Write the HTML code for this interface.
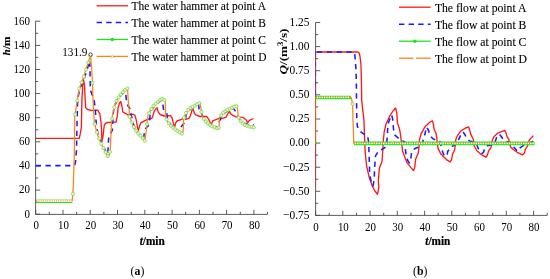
<!DOCTYPE html>
<html><head><meta charset="utf-8"><title>Figure</title>
<style>html,body{margin:0;padding:0;background:#fff}svg{display:block}</style></head>
<body>
<svg width="550" height="279" viewBox="0 0 550 279" font-family="'Liberation Serif', serif" fill="#000">
<rect width="550" height="279" fill="#fff"/>
<path d="M35.6,21.2V214.4H267.4" fill="none" stroke="#4a4a4a" stroke-width="0.9"/><path d="M35.7,214.4v-4.6M63.0,214.4v-4.6M90.2,214.4v-4.6M117.5,214.4v-4.6M144.8,214.4v-4.6M172.1,214.4v-4.6M199.4,214.4v-4.6M226.6,214.4v-4.6M253.9,214.4v-4.6M49.3,214.4v-2.6M76.6,214.4v-2.6M103.9,214.4v-2.6M131.2,214.4v-2.6M158.4,214.4v-2.6M185.7,214.4v-2.6M213.0,214.4v-2.6M240.3,214.4v-2.6M267.5,214.4v-2.6M35.6,214.2h4.6M35.6,190.1h4.6M35.6,166.0h4.6M35.6,141.8h4.6M35.6,117.7h4.6M35.6,93.6h4.6M35.6,69.5h4.6M35.6,45.4h4.6M35.6,21.2h4.6M35.6,202.1h2.6M35.6,178.0h2.6M35.6,153.9h2.6M35.6,129.8h2.6M35.6,105.7h2.6M35.6,81.5h2.6M35.6,57.4h2.6M35.6,33.3h2.6" fill="none" stroke="#4a4a4a" stroke-width="0.9"/>
<text transform="translate(36.20,229.40) scale(0.96,1.17)" font-size="11.4" text-anchor="middle">0</text>
<text transform="translate(63.48,229.40) scale(0.96,1.17)" font-size="11.4" text-anchor="middle">10</text>
<text transform="translate(90.75,229.40) scale(0.96,1.17)" font-size="11.4" text-anchor="middle">20</text>
<text transform="translate(118.03,229.40) scale(0.96,1.17)" font-size="11.4" text-anchor="middle">30</text>
<text transform="translate(145.30,229.40) scale(0.96,1.17)" font-size="11.4" text-anchor="middle">40</text>
<text transform="translate(172.57,229.40) scale(0.96,1.17)" font-size="11.4" text-anchor="middle">50</text>
<text transform="translate(199.85,229.40) scale(0.96,1.17)" font-size="11.4" text-anchor="middle">60</text>
<text transform="translate(227.12,229.40) scale(0.96,1.17)" font-size="11.4" text-anchor="middle">70</text>
<text transform="translate(254.40,229.40) scale(0.96,1.17)" font-size="11.4" text-anchor="middle">80</text>
<text transform="translate(30.00,217.50) scale(0.96,1.17)" font-size="11.4" text-anchor="end">0</text>
<text transform="translate(30.00,193.38) scale(0.96,1.17)" font-size="11.4" text-anchor="end">20</text>
<text transform="translate(30.00,169.26) scale(0.96,1.17)" font-size="11.4" text-anchor="end">40</text>
<text transform="translate(30.00,145.14) scale(0.96,1.17)" font-size="11.4" text-anchor="end">60</text>
<text transform="translate(30.00,121.02) scale(0.96,1.17)" font-size="11.4" text-anchor="end">80</text>
<text transform="translate(30.00,96.90) scale(0.96,1.17)" font-size="11.4" text-anchor="end">100</text>
<text transform="translate(30.00,72.78) scale(0.96,1.17)" font-size="11.4" text-anchor="end">120</text>
<text transform="translate(30.00,48.66) scale(0.96,1.17)" font-size="11.4" text-anchor="end">140</text>
<text transform="translate(30.00,24.54) scale(0.96,1.17)" font-size="11.4" text-anchor="end">160</text>
<text transform="translate(152.20,244.60) scale(1,1.12)" font-size="11.3" text-anchor="middle" font-weight="bold" stroke="#000" stroke-width="0.2"><tspan font-style="italic">t</tspan>/min</text>
<text transform="translate(9.90,46.00) rotate(-90) scale(1,0.92)" font-size="11.3" text-anchor="middle" font-weight="bold" stroke="#000" stroke-width="0.15"><tspan font-style="italic">h</tspan>/m</text>
<text transform="translate(137.50,274.80) scale(1,1.1)" font-size="11.8" text-anchor="middle">(<tspan font-weight="bold">a</tspan>)</text>
<path d="M315.6,22.5V215.4H547.3" fill="none" stroke="#4a4a4a" stroke-width="0.9"/><path d="M315.6,215.4v-4.6M342.8,215.4v-4.6M370.1,215.4v-4.6M397.3,215.4v-4.6M424.6,215.4v-4.6M451.8,215.4v-4.6M479.1,215.4v-4.6M506.3,215.4v-4.6M533.6,215.4v-4.6M329.2,215.4v-2.6M356.5,215.4v-2.6M383.7,215.4v-2.6M411.0,215.4v-2.6M438.2,215.4v-2.6M465.4,215.4v-2.6M492.7,215.4v-2.6M519.9,215.4v-2.6M547.2,215.4v-2.6M315.6,215.4h4.6M315.6,191.3h4.6M315.6,167.2h4.6M315.6,143.1h4.6M315.6,119.0h4.6M315.6,94.8h4.6M315.6,70.7h4.6M315.6,46.6h4.6M315.6,22.5h4.6M315.6,203.3h2.6M315.6,179.2h2.6M315.6,155.1h2.6M315.6,131.0h2.6M315.6,106.9h2.6M315.6,82.8h2.6M315.6,58.7h2.6M315.6,34.6h2.6" fill="none" stroke="#4a4a4a" stroke-width="0.9"/>
<text transform="translate(316.10,230.70) scale(0.96,1.17)" font-size="11.4" text-anchor="middle">0</text>
<text transform="translate(343.35,230.70) scale(0.96,1.17)" font-size="11.4" text-anchor="middle">10</text>
<text transform="translate(370.59,230.70) scale(0.96,1.17)" font-size="11.4" text-anchor="middle">20</text>
<text transform="translate(397.84,230.70) scale(0.96,1.17)" font-size="11.4" text-anchor="middle">30</text>
<text transform="translate(425.08,230.70) scale(0.96,1.17)" font-size="11.4" text-anchor="middle">40</text>
<text transform="translate(452.33,230.70) scale(0.96,1.17)" font-size="11.4" text-anchor="middle">50</text>
<text transform="translate(479.57,230.70) scale(0.96,1.17)" font-size="11.4" text-anchor="middle">60</text>
<text transform="translate(506.82,230.70) scale(0.96,1.17)" font-size="11.4" text-anchor="middle">70</text>
<text transform="translate(534.06,230.70) scale(0.96,1.17)" font-size="11.4" text-anchor="middle">80</text>
<text transform="translate(309.40,218.80) scale(1.0,1.17)" font-size="11.4" text-anchor="end">−0.75</text>
<text transform="translate(309.40,194.69) scale(1.0,1.17)" font-size="11.4" text-anchor="end">−0.50</text>
<text transform="translate(309.40,170.58) scale(1.0,1.17)" font-size="11.4" text-anchor="end">−0.25</text>
<text transform="translate(309.40,146.46) scale(1.0,1.17)" font-size="11.4" text-anchor="end">0.00</text>
<text transform="translate(309.40,122.35) scale(1.0,1.17)" font-size="11.4" text-anchor="end">0.25</text>
<text transform="translate(309.40,98.24) scale(1.0,1.17)" font-size="11.4" text-anchor="end">0.50</text>
<text transform="translate(309.40,74.12) scale(1.0,1.17)" font-size="11.4" text-anchor="end">0.75</text>
<text transform="translate(309.40,50.01) scale(1.0,1.17)" font-size="11.4" text-anchor="end">1.00</text>
<text transform="translate(309.40,25.90) scale(1.0,1.17)" font-size="11.4" text-anchor="end">1.25</text>
<text transform="translate(437.80,245.10) scale(1,1.12)" font-size="11.3" text-anchor="middle" font-weight="bold" stroke="#000" stroke-width="0.2"><tspan font-style="italic">t</tspan>/min</text>
<text transform="translate(287.20,51.50) rotate(-90) scale(1,0.86)" font-size="13.2" text-anchor="middle" font-weight="bold"><tspan font-style="italic">Q</tspan>/(m<tspan font-size="8.5" dy="-4.5">3</tspan><tspan dy="4.5">/s)</tspan></text>
<text transform="translate(420.30,274.60) scale(1,1.1)" font-size="11.8" text-anchor="middle">(<tspan font-weight="bold">b</tspan>)</text>
<polyline points="35.7,138.4 79.2,138.4 80.3,133.7 81.4,127.2 81.6,115.0 81.9,100.0 82.8,85.0 83.6,79.7 84.5,85.0 85.2,100.0 85.7,107.6 87.5,109.5 91.2,110.4 97.7,110.2 99.9,114.2 101.0,121.8 101.5,130.0 102.0,141.4 103.2,134.8 103.7,130.0 104.3,125.0 106.0,123.0 108.6,122.4 116.1,122.0 117.2,116.4 118.2,107.4 119.4,103.3 120.7,101.5 121.9,106.0 122.8,112.0 125.0,113.2 127.9,114.8 133.1,114.2 135.0,115.4 136.3,120.3 137.6,128.0 138.3,130.7 139.5,126.1 140.8,122.9 145.4,120.3 148.6,119.0 151.8,118.4 152.8,116.0 153.8,112.6 154.4,110.8 157.0,107.6 158.3,112.1 160.2,114.5 164.1,116.0 170.6,115.6 171.8,117.3 172.5,119.7 173.8,124.9 174.7,126.8 175.7,122.9 177.0,121.0 181.5,119.3 184.3,117.6 185.9,119.3 189.2,118.2 190.8,114.4 191.9,110.5 193.3,109.5 194.4,113.3 195.7,114.9 200.1,116.5 206.6,116.5 208.8,119.3 210.4,123.6 211.2,124.7 212.6,120.9 218.6,118.7 220.3,117.6 221.9,118.7 226.3,117.1 227.9,113.3 229.5,111.6 231.2,114.4 235.9,116.8 243.2,117.4 246.2,120.0 247.6,122.9 249.1,120.7 253.5,118.5" fill="none" stroke="#ff1a1a" stroke-width="1.35" stroke-linejoin="round"/>
<polyline points="35.7,165.6 74.5,165.6 75.5,162.0 76.5,150.0 77.0,125.0 77.5,105.0 78.3,96.0 80.0,88.0 82.4,83.5 84.8,77.0 86.7,71.0 88.6,64.5 89.5,60.5 89.9,64.0 90.1,78.0 90.4,90.0 94.0,100.0 95.3,108.0 95.8,118.0 96.6,127.0 98.0,133.5 99.2,137.5 100.4,140.4 101.6,143.1 102.8,145.6 103.9,147.9 105.1,150.2 106.3,152.4 107.5,154.5 108.0,151.0 108.6,139.0 110.5,134.0 112.4,130.0 113.0,118.0 113.6,110.5 115.4,104.2 118.1,99.3 121.3,95.0 124.5,91.8 125.6,92.5 126.0,96.6 126.6,101.8 127.9,105.7 130.8,109.5 131.1,114.7 132.4,119.0 133.1,123.6 134.4,126.1 135.9,130.2 139.2,134.5 142.5,137.8 143.6,138.6 144.0,135.2 144.7,131.3 146.0,128.0 148.0,126.1 149.6,122.3 150.0,116.5 150.8,110.9 154.0,106.6 157.2,103.4 159.9,101.3 161.5,100.3 162.2,101.8 163.0,105.0 163.4,108.9 166.7,112.4 167.3,118.0 168.6,121.2 170.0,123.5 171.4,125.1 172.8,126.5 174.2,127.7 175.6,128.9 177.0,130.1 178.4,131.2 179.8,132.2 180.2,130.7 180.9,127.4 182.5,125.0 184.4,123.0 185.6,120.0 185.9,115.4 187.7,111.6 190.9,109.0 194.1,107.3 197.4,105.2 198.6,105.0 199.2,111.0 201.7,113.3 203.2,118.0 204.9,120.9 209.2,124.6 213.0,126.8 216.5,128.3 217.0,125.8 218.6,123.0 220.5,119.0 221.3,116.5 223.5,113.6 227.0,111.3 230.6,109.5 233.5,108.2 234.4,109.7 236.6,113.4 238.0,117.0 241.2,121.0 244.8,123.6 249.5,125.0 253.8,124.6" fill="none" stroke="#1a1aff" stroke-width="1.55" stroke-dasharray="5.3 4.5" stroke-linejoin="round"/>
<path d="M35.7,202.4H72.4" fill="none" stroke="#1de61d" stroke-width="1.2"/>
<path d="M36.2,199.7H72.6" fill="none" stroke="#9dea72" stroke-width="1.0"/>
<path d="M35.7,200.9H72.2" fill="none" stroke="#ff8412" stroke-width="1.1" opacity="0.85"/>
<polyline points="72.2,200.9 72.9,193.6 73.5,180.0 74.3,155.0 74.6,130.0 74.8,116.1 77.0,102.0 79.0,89.7 81.4,82.9 83.8,76.3 85.7,70.3 87.9,63.2 90.6,55.0 91.6,68.0 92.5,83.0 93.0,100.0 94.4,122.9 96.6,131.5 98.1,136.3 99.5,139.9 101.0,143.1 102.4,146.1 103.9,149.0 105.4,151.8 106.8,154.4 108.3,157.0 109.5,154.0 110.3,150.0 111.3,125.0 112.4,116.4 113.8,109.4 115.4,103.0 118.1,98.1 121.3,93.8 124.5,90.6 127.5,88.2 128.2,100.0 129.2,110.0 129.5,116.6 131.3,121.2 133.2,125.9 135.9,130.5 139.2,134.5 142.5,137.8 144.9,140.8 146.5,129.2 147.4,120.0 148.0,115.5 150.8,109.7 154.0,105.4 157.2,102.2 159.9,100.1 162.6,98.7 165.3,100.8 165.5,110.0 166.0,118.0 167.3,121.0 169.2,124.0 171.0,125.9 172.9,127.5 174.8,128.9 176.6,130.3 178.5,131.5 180.3,132.7 182.2,133.9 183.2,131.0 183.6,120.5 183.9,118.0 185.5,114.2 187.7,110.4 190.9,107.8 194.1,106.1 197.4,104.0 200.0,102.6 200.6,106.7 201.7,113.1 202.7,117.4 204.9,120.7 209.2,124.4 211.5,125.9 213.9,127.0 216.2,128.1 218.6,129.0 219.2,126.6 219.4,117.8 221.1,115.4 223.5,112.4 227.0,110.1 230.6,108.3 234.1,106.9 237.1,105.9 237.7,110.0 238.3,117.2 241.2,121.9 244.8,124.9 249.5,126.6 254.8,127.6" fill="none" stroke="#ff8412" stroke-width="1.25" stroke-linejoin="round"/>
<path d="M38.00,199.1l0.95,2.6h-1.9z" fill="#fff"/>
<path d="M40.18,199.1l0.95,2.6h-1.9z" fill="#fff"/>
<path d="M42.36,199.1l0.95,2.6h-1.9z" fill="#fff"/>
<path d="M44.54,199.1l0.95,2.6h-1.9z" fill="#fff"/>
<path d="M46.72,199.1l0.95,2.6h-1.9z" fill="#fff"/>
<path d="M48.90,199.1l0.95,2.6h-1.9z" fill="#fff"/>
<path d="M51.08,199.1l0.95,2.6h-1.9z" fill="#fff"/>
<path d="M53.26,199.1l0.95,2.6h-1.9z" fill="#fff"/>
<path d="M55.44,199.1l0.95,2.6h-1.9z" fill="#fff"/>
<path d="M57.62,199.1l0.95,2.6h-1.9z" fill="#fff"/>
<path d="M59.80,199.1l0.95,2.6h-1.9z" fill="#fff"/>
<path d="M61.98,199.1l0.95,2.6h-1.9z" fill="#fff"/>
<path d="M64.16,199.1l0.95,2.6h-1.9z" fill="#fff"/>
<path d="M66.34,199.1l0.95,2.6h-1.9z" fill="#fff"/>
<path d="M68.52,199.1l0.95,2.6h-1.9z" fill="#fff"/>
<path d="M70.70,199.1l0.95,2.6h-1.9z" fill="#fff"/>
<circle cx="72.9" cy="193.8" r="1.6" fill="#fff" stroke="#58e038" stroke-width="0.72"/><path d="M72.9,192.6L73.9,194.6L71.9,194.6Z" fill="#fff" stroke="#ff8412" stroke-width="0.2"/>
<circle cx="75.1" cy="114.4" r="1.6" fill="#fff" stroke="#58e038" stroke-width="0.72"/><path d="M75.1,113.2L76.1,115.2L74.1,115.2Z" fill="#fff" stroke="#ff8412" stroke-width="0.2"/>
<circle cx="77.2" cy="100.5" r="1.6" fill="#fff" stroke="#58e038" stroke-width="0.72"/><path d="M77.2,99.3L78.2,101.3L76.2,101.3Z" fill="#fff" stroke="#ff8412" stroke-width="0.2"/>
<circle cx="79.4" cy="88.5" r="1.6" fill="#fff" stroke="#58e038" stroke-width="0.72"/><path d="M79.4,87.3L80.4,89.3L78.4,89.3Z" fill="#fff" stroke="#ff8412" stroke-width="0.2"/>
<circle cx="81.6" cy="82.3" r="1.6" fill="#fff" stroke="#58e038" stroke-width="0.72"/><path d="M81.6,81.1L82.6,83.1L80.6,83.1Z" fill="#fff" stroke="#ff8412" stroke-width="0.2"/>
<circle cx="83.8" cy="76.4" r="1.6" fill="#fff" stroke="#58e038" stroke-width="0.72"/><path d="M83.8,75.2L84.8,77.2L82.8,77.2Z" fill="#fff" stroke="#ff8412" stroke-width="0.2"/>
<circle cx="86.0" cy="69.5" r="1.6" fill="#fff" stroke="#58e038" stroke-width="0.72"/><path d="M86.0,68.3L87.0,70.3L85.0,70.3Z" fill="#fff" stroke="#ff8412" stroke-width="0.2"/>
<circle cx="88.1" cy="62.5" r="1.6" fill="#fff" stroke="#58e038" stroke-width="0.72"/><path d="M88.1,61.3L89.1,63.3L87.1,63.3Z" fill="#fff" stroke="#ff8412" stroke-width="0.2"/>
<circle cx="90.3" cy="55.9" r="1.6" fill="#fff" stroke="#58e038" stroke-width="0.72"/><path d="M90.3,54.7L91.3,56.7L89.3,56.7Z" fill="#fff" stroke="#ff8412" stroke-width="0.2"/>
<circle cx="92.5" cy="83.0" r="1.6" fill="#fff" stroke="#58e038" stroke-width="0.72"/><path d="M92.5,81.8L93.5,83.8L91.5,83.8Z" fill="#fff" stroke="#ff8412" stroke-width="0.2"/>
<circle cx="94.7" cy="124.0" r="1.6" fill="#fff" stroke="#58e038" stroke-width="0.72"/><path d="M94.7,122.8L95.7,124.8L93.7,124.8Z" fill="#fff" stroke="#ff8412" stroke-width="0.2"/>
<circle cx="96.9" cy="132.4" r="1.6" fill="#fff" stroke="#58e038" stroke-width="0.72"/><path d="M96.9,131.2L97.9,133.2L95.9,133.2Z" fill="#fff" stroke="#ff8412" stroke-width="0.2"/>
<circle cx="99.0" cy="138.7" r="1.6" fill="#fff" stroke="#58e038" stroke-width="0.72"/><path d="M99.0,137.5L100.0,139.5L98.0,139.5Z" fill="#fff" stroke="#ff8412" stroke-width="0.2"/>
<circle cx="101.2" cy="143.6" r="1.6" fill="#fff" stroke="#58e038" stroke-width="0.72"/><path d="M101.2,142.4L102.2,144.4L100.2,144.4Z" fill="#fff" stroke="#ff8412" stroke-width="0.2"/>
<circle cx="103.4" cy="148.0" r="1.6" fill="#fff" stroke="#58e038" stroke-width="0.72"/><path d="M103.4,146.8L104.4,148.8L102.4,148.8Z" fill="#fff" stroke="#ff8412" stroke-width="0.2"/>
<circle cx="105.6" cy="152.1" r="1.6" fill="#fff" stroke="#58e038" stroke-width="0.72"/><path d="M105.6,150.9L106.6,152.9L104.6,152.9Z" fill="#fff" stroke="#ff8412" stroke-width="0.2"/>
<circle cx="107.8" cy="156.0" r="1.6" fill="#fff" stroke="#58e038" stroke-width="0.72"/><path d="M107.8,154.8L108.8,156.8L106.8,156.8Z" fill="#fff" stroke="#ff8412" stroke-width="0.2"/>
<circle cx="109.9" cy="151.8" r="1.6" fill="#fff" stroke="#58e038" stroke-width="0.72"/><path d="M109.9,150.6L110.9,152.6L108.9,152.6Z" fill="#fff" stroke="#ff8412" stroke-width="0.2"/>
<circle cx="112.1" cy="118.6" r="1.6" fill="#fff" stroke="#58e038" stroke-width="0.72"/><path d="M112.1,117.4L113.1,119.4L111.1,119.4Z" fill="#fff" stroke="#ff8412" stroke-width="0.2"/>
<circle cx="114.3" cy="107.4" r="1.6" fill="#fff" stroke="#58e038" stroke-width="0.72"/><path d="M114.3,106.2L115.3,108.2L113.3,108.2Z" fill="#fff" stroke="#ff8412" stroke-width="0.2"/>
<circle cx="116.5" cy="101.0" r="1.6" fill="#fff" stroke="#58e038" stroke-width="0.72"/><path d="M116.5,99.8L117.5,101.8L115.5,101.8Z" fill="#fff" stroke="#ff8412" stroke-width="0.2"/>
<circle cx="118.7" cy="97.3" r="1.6" fill="#fff" stroke="#58e038" stroke-width="0.72"/><path d="M118.7,96.1L119.7,98.1L117.7,98.1Z" fill="#fff" stroke="#ff8412" stroke-width="0.2"/>
<circle cx="120.8" cy="94.4" r="1.6" fill="#fff" stroke="#58e038" stroke-width="0.72"/><path d="M120.8,93.2L121.8,95.2L119.8,95.2Z" fill="#fff" stroke="#ff8412" stroke-width="0.2"/>
<circle cx="123.0" cy="92.1" r="1.6" fill="#fff" stroke="#58e038" stroke-width="0.72"/><path d="M123.0,90.9L124.0,92.9L122.0,92.9Z" fill="#fff" stroke="#ff8412" stroke-width="0.2"/>
<circle cx="125.2" cy="90.0" r="1.6" fill="#fff" stroke="#58e038" stroke-width="0.72"/><path d="M125.2,88.8L126.2,90.8L124.2,90.8Z" fill="#fff" stroke="#ff8412" stroke-width="0.2"/>
<circle cx="127.4" cy="88.3" r="1.6" fill="#fff" stroke="#58e038" stroke-width="0.72"/><path d="M127.4,87.1L128.4,89.1L126.4,89.1Z" fill="#fff" stroke="#ff8412" stroke-width="0.2"/>
<circle cx="129.6" cy="116.8" r="1.6" fill="#fff" stroke="#58e038" stroke-width="0.72"/><path d="M129.6,115.6L130.6,117.6L128.6,117.6Z" fill="#fff" stroke="#ff8412" stroke-width="0.2"/>
<circle cx="131.7" cy="122.3" r="1.6" fill="#fff" stroke="#58e038" stroke-width="0.72"/><path d="M131.7,121.1L132.7,123.1L130.7,123.1Z" fill="#fff" stroke="#ff8412" stroke-width="0.2"/>
<circle cx="133.9" cy="127.1" r="1.6" fill="#fff" stroke="#58e038" stroke-width="0.72"/><path d="M133.9,125.9L134.9,127.9L132.9,127.9Z" fill="#fff" stroke="#ff8412" stroke-width="0.2"/>
<circle cx="136.1" cy="130.7" r="1.6" fill="#fff" stroke="#58e038" stroke-width="0.72"/><path d="M136.1,129.5L137.1,131.5L135.1,131.5Z" fill="#fff" stroke="#ff8412" stroke-width="0.2"/>
<circle cx="138.3" cy="133.4" r="1.6" fill="#fff" stroke="#58e038" stroke-width="0.72"/><path d="M138.3,132.2L139.3,134.2L137.3,134.2Z" fill="#fff" stroke="#ff8412" stroke-width="0.2"/>
<circle cx="140.5" cy="135.8" r="1.6" fill="#fff" stroke="#58e038" stroke-width="0.72"/><path d="M140.5,134.6L141.5,136.6L139.5,136.6Z" fill="#fff" stroke="#ff8412" stroke-width="0.2"/>
<circle cx="142.6" cy="138.0" r="1.6" fill="#fff" stroke="#58e038" stroke-width="0.72"/><path d="M142.6,136.8L143.6,138.8L141.6,138.8Z" fill="#fff" stroke="#ff8412" stroke-width="0.2"/>
<circle cx="144.8" cy="140.7" r="1.6" fill="#fff" stroke="#58e038" stroke-width="0.72"/><path d="M144.8,139.5L145.8,141.5L143.8,141.5Z" fill="#fff" stroke="#ff8412" stroke-width="0.2"/>
<circle cx="147.0" cy="124.1" r="1.6" fill="#fff" stroke="#58e038" stroke-width="0.72"/><path d="M147.0,122.9L148.0,124.9L146.0,124.9Z" fill="#fff" stroke="#ff8412" stroke-width="0.2"/>
<circle cx="149.2" cy="113.1" r="1.6" fill="#fff" stroke="#58e038" stroke-width="0.72"/><path d="M149.2,111.9L150.2,113.9L148.2,113.9Z" fill="#fff" stroke="#ff8412" stroke-width="0.2"/>
<circle cx="151.4" cy="108.9" r="1.6" fill="#fff" stroke="#58e038" stroke-width="0.72"/><path d="M151.4,107.7L152.4,109.7L150.4,109.7Z" fill="#fff" stroke="#ff8412" stroke-width="0.2"/>
<circle cx="153.5" cy="106.0" r="1.6" fill="#fff" stroke="#58e038" stroke-width="0.72"/><path d="M153.5,104.8L154.5,106.8L152.5,106.8Z" fill="#fff" stroke="#ff8412" stroke-width="0.2"/>
<circle cx="155.7" cy="103.7" r="1.6" fill="#fff" stroke="#58e038" stroke-width="0.72"/><path d="M155.7,102.5L156.7,104.5L154.7,104.5Z" fill="#fff" stroke="#ff8412" stroke-width="0.2"/>
<circle cx="157.9" cy="101.7" r="1.6" fill="#fff" stroke="#58e038" stroke-width="0.72"/><path d="M157.9,100.5L158.9,102.5L156.9,102.5Z" fill="#fff" stroke="#ff8412" stroke-width="0.2"/>
<circle cx="160.1" cy="100.0" r="1.6" fill="#fff" stroke="#58e038" stroke-width="0.72"/><path d="M160.1,98.8L161.1,100.8L159.1,100.8Z" fill="#fff" stroke="#ff8412" stroke-width="0.2"/>
<circle cx="162.3" cy="98.9" r="1.6" fill="#fff" stroke="#58e038" stroke-width="0.72"/><path d="M162.3,97.7L163.3,99.7L161.3,99.7Z" fill="#fff" stroke="#ff8412" stroke-width="0.2"/>
<circle cx="164.4" cy="100.1" r="1.6" fill="#fff" stroke="#58e038" stroke-width="0.72"/><path d="M164.4,98.9L165.4,100.9L163.4,100.9Z" fill="#fff" stroke="#ff8412" stroke-width="0.2"/>
<circle cx="166.6" cy="119.4" r="1.6" fill="#fff" stroke="#58e038" stroke-width="0.72"/><path d="M166.6,118.2L167.6,120.2L165.6,120.2Z" fill="#fff" stroke="#ff8412" stroke-width="0.2"/>
<circle cx="168.8" cy="123.4" r="1.6" fill="#fff" stroke="#58e038" stroke-width="0.72"/><path d="M168.8,122.2L169.8,124.2L167.8,124.2Z" fill="#fff" stroke="#ff8412" stroke-width="0.2"/>
<circle cx="171.0" cy="125.8" r="1.6" fill="#fff" stroke="#58e038" stroke-width="0.72"/><path d="M171.0,124.6L172.0,126.6L170.0,126.6Z" fill="#fff" stroke="#ff8412" stroke-width="0.2"/>
<circle cx="173.2" cy="127.7" r="1.6" fill="#fff" stroke="#58e038" stroke-width="0.72"/><path d="M173.2,126.5L174.2,128.5L172.2,128.5Z" fill="#fff" stroke="#ff8412" stroke-width="0.2"/>
<circle cx="175.3" cy="129.4" r="1.6" fill="#fff" stroke="#58e038" stroke-width="0.72"/><path d="M175.3,128.2L176.3,130.2L174.3,130.2Z" fill="#fff" stroke="#ff8412" stroke-width="0.2"/>
<circle cx="177.5" cy="130.9" r="1.6" fill="#fff" stroke="#58e038" stroke-width="0.72"/><path d="M177.5,129.7L178.5,131.7L176.5,131.7Z" fill="#fff" stroke="#ff8412" stroke-width="0.2"/>
<circle cx="179.7" cy="132.3" r="1.6" fill="#fff" stroke="#58e038" stroke-width="0.72"/><path d="M179.7,131.1L180.7,133.1L178.7,133.1Z" fill="#fff" stroke="#ff8412" stroke-width="0.2"/>
<circle cx="181.9" cy="133.7" r="1.6" fill="#fff" stroke="#58e038" stroke-width="0.72"/><path d="M181.9,132.5L182.9,134.5L180.9,134.5Z" fill="#fff" stroke="#ff8412" stroke-width="0.2"/>
<circle cx="184.1" cy="117.6" r="1.6" fill="#fff" stroke="#58e038" stroke-width="0.72"/><path d="M184.1,116.4L185.1,118.4L183.1,118.4Z" fill="#fff" stroke="#ff8412" stroke-width="0.2"/>
<circle cx="186.2" cy="112.9" r="1.6" fill="#fff" stroke="#58e038" stroke-width="0.72"/><path d="M186.2,111.7L187.2,113.7L185.2,113.7Z" fill="#fff" stroke="#ff8412" stroke-width="0.2"/>
<circle cx="188.4" cy="109.8" r="1.6" fill="#fff" stroke="#58e038" stroke-width="0.72"/><path d="M188.4,108.6L189.4,110.6L187.4,110.6Z" fill="#fff" stroke="#ff8412" stroke-width="0.2"/>
<circle cx="190.6" cy="108.0" r="1.6" fill="#fff" stroke="#58e038" stroke-width="0.72"/><path d="M190.6,106.8L191.6,108.8L189.6,108.8Z" fill="#fff" stroke="#ff8412" stroke-width="0.2"/>
<circle cx="192.8" cy="106.8" r="1.6" fill="#fff" stroke="#58e038" stroke-width="0.72"/><path d="M192.8,105.6L193.8,107.6L191.8,107.6Z" fill="#fff" stroke="#ff8412" stroke-width="0.2"/>
<circle cx="195.0" cy="105.6" r="1.6" fill="#fff" stroke="#58e038" stroke-width="0.72"/><path d="M195.0,104.4L196.0,106.4L194.0,106.4Z" fill="#fff" stroke="#ff8412" stroke-width="0.2"/>
<circle cx="197.1" cy="104.2" r="1.6" fill="#fff" stroke="#58e038" stroke-width="0.72"/><path d="M197.1,103.0L198.1,105.0L196.1,105.0Z" fill="#fff" stroke="#ff8412" stroke-width="0.2"/>
<circle cx="199.3" cy="103.0" r="1.6" fill="#fff" stroke="#58e038" stroke-width="0.72"/><path d="M199.3,101.8L200.3,103.8L198.3,103.8Z" fill="#fff" stroke="#ff8412" stroke-width="0.2"/>
<circle cx="201.5" cy="111.9" r="1.6" fill="#fff" stroke="#58e038" stroke-width="0.72"/><path d="M201.5,110.7L202.5,112.7L200.5,112.7Z" fill="#fff" stroke="#ff8412" stroke-width="0.2"/>
<circle cx="203.7" cy="118.9" r="1.6" fill="#fff" stroke="#58e038" stroke-width="0.72"/><path d="M203.7,117.7L204.7,119.7L202.7,119.7Z" fill="#fff" stroke="#ff8412" stroke-width="0.2"/>
<circle cx="205.9" cy="121.5" r="1.6" fill="#fff" stroke="#58e038" stroke-width="0.72"/><path d="M205.9,120.3L206.9,122.3L204.9,122.3Z" fill="#fff" stroke="#ff8412" stroke-width="0.2"/>
<circle cx="208.0" cy="123.4" r="1.6" fill="#fff" stroke="#58e038" stroke-width="0.72"/><path d="M208.0,122.2L209.0,124.2L207.0,124.2Z" fill="#fff" stroke="#ff8412" stroke-width="0.2"/>
<circle cx="210.2" cy="125.1" r="1.6" fill="#fff" stroke="#58e038" stroke-width="0.72"/><path d="M210.2,123.9L211.2,125.9L209.2,125.9Z" fill="#fff" stroke="#ff8412" stroke-width="0.2"/>
<circle cx="212.4" cy="126.3" r="1.6" fill="#fff" stroke="#58e038" stroke-width="0.72"/><path d="M212.4,125.1L213.4,127.1L211.4,127.1Z" fill="#fff" stroke="#ff8412" stroke-width="0.2"/>
<circle cx="214.6" cy="127.3" r="1.6" fill="#fff" stroke="#58e038" stroke-width="0.72"/><path d="M214.6,126.1L215.6,128.1L213.6,128.1Z" fill="#fff" stroke="#ff8412" stroke-width="0.2"/>
<circle cx="216.8" cy="128.3" r="1.6" fill="#fff" stroke="#58e038" stroke-width="0.72"/><path d="M216.8,127.1L217.8,129.1L215.8,129.1Z" fill="#fff" stroke="#ff8412" stroke-width="0.2"/>
<circle cx="218.9" cy="127.6" r="1.6" fill="#fff" stroke="#58e038" stroke-width="0.72"/><path d="M218.9,126.4L219.9,128.4L217.9,128.4Z" fill="#fff" stroke="#ff8412" stroke-width="0.2"/>
<circle cx="221.1" cy="115.4" r="1.6" fill="#fff" stroke="#58e038" stroke-width="0.72"/><path d="M221.1,114.2L222.1,116.2L220.1,116.2Z" fill="#fff" stroke="#ff8412" stroke-width="0.2"/>
<circle cx="223.3" cy="112.6" r="1.6" fill="#fff" stroke="#58e038" stroke-width="0.72"/><path d="M223.3,111.4L224.3,113.4L222.3,113.4Z" fill="#fff" stroke="#ff8412" stroke-width="0.2"/>
<circle cx="225.5" cy="111.1" r="1.6" fill="#fff" stroke="#58e038" stroke-width="0.72"/><path d="M225.5,109.9L226.5,111.9L224.5,111.9Z" fill="#fff" stroke="#ff8412" stroke-width="0.2"/>
<circle cx="227.7" cy="109.8" r="1.6" fill="#fff" stroke="#58e038" stroke-width="0.72"/><path d="M227.7,108.6L228.7,110.6L226.7,110.6Z" fill="#fff" stroke="#ff8412" stroke-width="0.2"/>
<circle cx="229.8" cy="108.7" r="1.6" fill="#fff" stroke="#58e038" stroke-width="0.72"/><path d="M229.8,107.5L230.8,109.5L228.8,109.5Z" fill="#fff" stroke="#ff8412" stroke-width="0.2"/>
<circle cx="232.0" cy="107.7" r="1.6" fill="#fff" stroke="#58e038" stroke-width="0.72"/><path d="M232.0,106.5L233.0,108.5L231.0,108.5Z" fill="#fff" stroke="#ff8412" stroke-width="0.2"/>
<circle cx="234.2" cy="106.9" r="1.6" fill="#fff" stroke="#58e038" stroke-width="0.72"/><path d="M234.2,105.7L235.2,107.7L233.2,107.7Z" fill="#fff" stroke="#ff8412" stroke-width="0.2"/>
<circle cx="236.4" cy="106.1" r="1.6" fill="#fff" stroke="#58e038" stroke-width="0.72"/><path d="M236.4,104.9L237.4,106.9L235.4,106.9Z" fill="#fff" stroke="#ff8412" stroke-width="0.2"/>
<circle cx="238.6" cy="117.6" r="1.6" fill="#fff" stroke="#58e038" stroke-width="0.72"/><path d="M238.6,116.4L239.6,118.4L237.6,118.4Z" fill="#fff" stroke="#ff8412" stroke-width="0.2"/>
<circle cx="240.7" cy="121.2" r="1.6" fill="#fff" stroke="#58e038" stroke-width="0.72"/><path d="M240.7,120.0L241.7,122.0L239.7,122.0Z" fill="#fff" stroke="#ff8412" stroke-width="0.2"/>
<circle cx="242.9" cy="123.3" r="1.6" fill="#fff" stroke="#58e038" stroke-width="0.72"/><path d="M242.9,122.1L243.9,124.1L241.9,124.1Z" fill="#fff" stroke="#ff8412" stroke-width="0.2"/>
<circle cx="245.1" cy="125.0" r="1.6" fill="#fff" stroke="#58e038" stroke-width="0.72"/><path d="M245.1,123.8L246.1,125.8L244.1,125.8Z" fill="#fff" stroke="#ff8412" stroke-width="0.2"/>
<circle cx="247.3" cy="125.8" r="1.6" fill="#fff" stroke="#58e038" stroke-width="0.72"/><path d="M247.3,124.6L248.3,126.6L246.3,126.6Z" fill="#fff" stroke="#ff8412" stroke-width="0.2"/>
<circle cx="249.5" cy="126.6" r="1.6" fill="#fff" stroke="#58e038" stroke-width="0.72"/><path d="M249.5,125.4L250.5,127.4L248.5,127.4Z" fill="#fff" stroke="#ff8412" stroke-width="0.2"/>
<circle cx="251.6" cy="127.0" r="1.6" fill="#fff" stroke="#58e038" stroke-width="0.72"/><path d="M251.6,125.8L252.6,127.8L250.6,127.8Z" fill="#fff" stroke="#ff8412" stroke-width="0.2"/>
<circle cx="253.8" cy="127.4" r="1.6" fill="#fff" stroke="#58e038" stroke-width="0.72"/><path d="M253.8,126.2L254.8,128.2L252.8,128.2Z" fill="#fff" stroke="#ff8412" stroke-width="0.2"/>
<circle cx="90.6" cy="54.6" r="1.7" fill="#fff" stroke="#222" stroke-width="0.8"/>
<text transform="translate(62.20,56.40) scale(1,1.1)" font-size="11.2">131.9</text>
<path d="M315.6,187V52" stroke="#ff1a1a" stroke-width="1.0" opacity="0.45"/><path d="M315.6,52V97" stroke="#1a1aff" stroke-width="1.1" stroke-dasharray="5 4.5" opacity="0.4"/><path d="M315.6,97.4V143.3" stroke="#ff8412" stroke-width="1.0" opacity="0.55"/><circle cx="316.2" cy="143.3" r="1.1" fill="#1de61d"/>
<polyline points="315.6,52.0 358.0,52.0 359.3,53.2 360.1,57.0 361.0,65.8 361.4,80.0 361.7,100.0 362.6,109.0 363.9,119.4 364.5,136.0 365.2,152.0 366.5,165.3 369.1,177.0 372.3,186.0 374.9,191.0 377.5,194.2 378.8,187.8 378.3,181.0 379.4,167.9 382.0,161.5 382.6,153.3 383.3,140.3 384.2,132.0 385.9,124.5 389.7,116.1 393.0,111.0 395.6,108.0 396.8,112.9 397.5,123.3 399.4,128.4 400.4,134.0 401.4,142.0 402.7,151.5 406.8,162.3 411.6,168.4 413.6,170.5 414.7,167.7 415.7,158.9 418.4,152.7 419.1,145.9 419.6,139.0 421.1,133.9 425.2,126.4 430.0,122.0 432.5,120.9 433.4,124.3 434.1,129.1 436.2,133.9 437.0,140.0 437.3,144.0 438.2,148.6 440.9,154.1 446.4,159.6 450.2,161.9 451.6,159.6 452.5,154.1 454.6,150.0 455.3,144.5 455.8,139.5 457.3,135.9 460.7,131.1 465.5,128.0 468.6,127.0 469.8,130.5 470.9,134.6 473.4,139.5 474.3,146.0 476.8,150.7 481.6,154.8 486.1,157.2 487.5,154.8 488.4,151.4 491.1,147.3 491.8,141.7 493.9,136.8 497.3,133.4 502.1,131.4 504.8,130.4 505.9,132.7 506.8,136.1 508.9,139.6 509.8,144.3 510.6,147.0 513.0,149.3 517.7,152.7 522.5,154.8 524.6,152.7 525.3,149.3 528.0,145.2 528.9,141.1 530.0,139.2 533.4,135.6" fill="none" stroke="#ff1a1a" stroke-width="1.35" stroke-dasharray="none" stroke-linejoin="round"/>
<polyline points="315.6,52.0 353.8,52.0 354.6,53.5 355.0,56.8 355.9,68.4 356.3,80.0 356.6,104.0 356.8,119.4 357.4,126.5 360.7,131.9 363.9,134.1 367.6,135.7 368.7,142.9 369.1,155.0 369.7,174.4 371.0,180.8 373.0,186.0 374.2,179.5 374.6,168.0 375.5,155.8 378.8,150.7 382.6,149.1 386.3,146.5 387.2,137.8 387.6,130.0 388.4,122.6 391.7,114.9 392.7,119.4 393.2,125.2 393.8,132.0 394.9,135.2 399.4,139.0 403.3,141.2 404.8,142.0 405.5,150.0 406.1,155.5 408.2,161.6 409.6,163.0 410.9,158.0 411.6,152.0 413.6,149.5 416.0,148.0 420.5,146.5 422.3,145.0 423.2,140.0 424.6,135.2 426.6,127.0 428.6,130.5 429.7,135.2 432.7,138.6 436.2,140.3 440.0,141.5 441.6,148.6 443.4,154.1 445.5,156.5 447.1,155.5 447.7,151.4 451.2,147.0 453.9,145.3 457.5,143.5 458.7,139.3 460.7,135.2 463.0,131.8 465.2,135.2 466.2,138.0 469.6,141.1 473.4,141.8 476.8,144.5 478.2,148.6 482.3,153.4 483.6,152.0 484.7,148.0 487.7,145.7 494.2,144.3 496.6,137.5 499.3,134.1 501.4,136.8 503.4,139.6 506.2,141.6 510.9,142.5 513.7,147.1 517.5,151.3 519.8,148.2 522.5,146.0 525.9,144.5 530.0,143.0 533.4,141.0" fill="none" stroke="#1a1aff" stroke-width="1.55" stroke-dasharray="5.3 4.5" stroke-dashoffset="-1.4" stroke-linejoin="round"/>
<path d="M315.9,97.5H351M354,143.4H534.6" fill="none" stroke="#1de61d" stroke-width="3.6"/>
<polyline points="315.6,97.4 350.5,97.3 351.4,98.2 352.6,104.0 353.0,120.0 353.8,143.4 533.8,143.4" fill="none" stroke="#ff8412" stroke-width="1.25" stroke-linejoin="round"/>
<rect x="316.85" y="96.59" width="1.3" height="1.6" fill="#fff"/>
<rect x="319.22" y="96.59" width="1.3" height="1.6" fill="#fff"/>
<rect x="321.59" y="96.58" width="1.3" height="1.6" fill="#fff"/>
<rect x="323.96" y="96.57" width="1.3" height="1.6" fill="#fff"/>
<rect x="326.33" y="96.57" width="1.3" height="1.6" fill="#fff"/>
<rect x="328.70" y="96.56" width="1.3" height="1.6" fill="#fff"/>
<rect x="331.07" y="96.55" width="1.3" height="1.6" fill="#fff"/>
<rect x="333.44" y="96.55" width="1.3" height="1.6" fill="#fff"/>
<rect x="335.81" y="96.54" width="1.3" height="1.6" fill="#fff"/>
<rect x="338.18" y="96.53" width="1.3" height="1.6" fill="#fff"/>
<rect x="340.55" y="96.53" width="1.3" height="1.6" fill="#fff"/>
<rect x="342.92" y="96.52" width="1.3" height="1.6" fill="#fff"/>
<rect x="345.29" y="96.51" width="1.3" height="1.6" fill="#fff"/>
<rect x="347.66" y="96.51" width="1.3" height="1.6" fill="#fff"/>
<rect x="354.77" y="142.60" width="1.3" height="1.6" fill="#fff"/>
<rect x="357.14" y="142.60" width="1.3" height="1.6" fill="#fff"/>
<rect x="359.51" y="142.60" width="1.3" height="1.6" fill="#fff"/>
<rect x="361.88" y="142.60" width="1.3" height="1.6" fill="#fff"/>
<rect x="364.25" y="142.60" width="1.3" height="1.6" fill="#fff"/>
<rect x="366.62" y="142.60" width="1.3" height="1.6" fill="#fff"/>
<rect x="368.99" y="142.60" width="1.3" height="1.6" fill="#fff"/>
<rect x="371.36" y="142.60" width="1.3" height="1.6" fill="#fff"/>
<rect x="373.73" y="142.60" width="1.3" height="1.6" fill="#fff"/>
<rect x="376.10" y="142.60" width="1.3" height="1.6" fill="#fff"/>
<rect x="378.47" y="142.60" width="1.3" height="1.6" fill="#fff"/>
<rect x="380.84" y="142.60" width="1.3" height="1.6" fill="#fff"/>
<rect x="383.21" y="142.60" width="1.3" height="1.6" fill="#fff"/>
<rect x="385.58" y="142.60" width="1.3" height="1.6" fill="#fff"/>
<rect x="387.95" y="142.60" width="1.3" height="1.6" fill="#fff"/>
<rect x="390.32" y="142.60" width="1.3" height="1.6" fill="#fff"/>
<rect x="392.69" y="142.60" width="1.3" height="1.6" fill="#fff"/>
<rect x="395.06" y="142.60" width="1.3" height="1.6" fill="#fff"/>
<rect x="397.43" y="142.60" width="1.3" height="1.6" fill="#fff"/>
<rect x="399.80" y="142.60" width="1.3" height="1.6" fill="#fff"/>
<rect x="402.17" y="142.60" width="1.3" height="1.6" fill="#fff"/>
<rect x="404.54" y="142.60" width="1.3" height="1.6" fill="#fff"/>
<rect x="406.91" y="142.60" width="1.3" height="1.6" fill="#fff"/>
<rect x="409.28" y="142.60" width="1.3" height="1.6" fill="#fff"/>
<rect x="411.65" y="142.60" width="1.3" height="1.6" fill="#fff"/>
<rect x="414.02" y="142.60" width="1.3" height="1.6" fill="#fff"/>
<rect x="416.39" y="142.60" width="1.3" height="1.6" fill="#fff"/>
<rect x="418.76" y="142.60" width="1.3" height="1.6" fill="#fff"/>
<rect x="421.13" y="142.60" width="1.3" height="1.6" fill="#fff"/>
<rect x="423.50" y="142.60" width="1.3" height="1.6" fill="#fff"/>
<rect x="425.87" y="142.60" width="1.3" height="1.6" fill="#fff"/>
<rect x="428.24" y="142.60" width="1.3" height="1.6" fill="#fff"/>
<rect x="430.61" y="142.60" width="1.3" height="1.6" fill="#fff"/>
<rect x="432.98" y="142.60" width="1.3" height="1.6" fill="#fff"/>
<rect x="435.35" y="142.60" width="1.3" height="1.6" fill="#fff"/>
<rect x="437.72" y="142.60" width="1.3" height="1.6" fill="#fff"/>
<rect x="440.09" y="142.60" width="1.3" height="1.6" fill="#fff"/>
<rect x="442.46" y="142.60" width="1.3" height="1.6" fill="#fff"/>
<rect x="444.83" y="142.60" width="1.3" height="1.6" fill="#fff"/>
<rect x="447.20" y="142.60" width="1.3" height="1.6" fill="#fff"/>
<rect x="449.57" y="142.60" width="1.3" height="1.6" fill="#fff"/>
<rect x="451.94" y="142.60" width="1.3" height="1.6" fill="#fff"/>
<rect x="454.31" y="142.60" width="1.3" height="1.6" fill="#fff"/>
<rect x="456.68" y="142.60" width="1.3" height="1.6" fill="#fff"/>
<rect x="459.05" y="142.60" width="1.3" height="1.6" fill="#fff"/>
<rect x="461.42" y="142.60" width="1.3" height="1.6" fill="#fff"/>
<rect x="463.79" y="142.60" width="1.3" height="1.6" fill="#fff"/>
<rect x="466.16" y="142.60" width="1.3" height="1.6" fill="#fff"/>
<rect x="468.53" y="142.60" width="1.3" height="1.6" fill="#fff"/>
<rect x="470.90" y="142.60" width="1.3" height="1.6" fill="#fff"/>
<rect x="473.27" y="142.60" width="1.3" height="1.6" fill="#fff"/>
<rect x="475.64" y="142.60" width="1.3" height="1.6" fill="#fff"/>
<rect x="478.01" y="142.60" width="1.3" height="1.6" fill="#fff"/>
<rect x="480.38" y="142.60" width="1.3" height="1.6" fill="#fff"/>
<rect x="482.75" y="142.60" width="1.3" height="1.6" fill="#fff"/>
<rect x="485.12" y="142.60" width="1.3" height="1.6" fill="#fff"/>
<rect x="487.49" y="142.60" width="1.3" height="1.6" fill="#fff"/>
<rect x="489.86" y="142.60" width="1.3" height="1.6" fill="#fff"/>
<rect x="492.23" y="142.60" width="1.3" height="1.6" fill="#fff"/>
<rect x="494.60" y="142.60" width="1.3" height="1.6" fill="#fff"/>
<rect x="496.97" y="142.60" width="1.3" height="1.6" fill="#fff"/>
<rect x="499.34" y="142.60" width="1.3" height="1.6" fill="#fff"/>
<rect x="501.71" y="142.60" width="1.3" height="1.6" fill="#fff"/>
<rect x="504.08" y="142.60" width="1.3" height="1.6" fill="#fff"/>
<rect x="506.45" y="142.60" width="1.3" height="1.6" fill="#fff"/>
<rect x="508.82" y="142.60" width="1.3" height="1.6" fill="#fff"/>
<rect x="511.19" y="142.60" width="1.3" height="1.6" fill="#fff"/>
<rect x="513.56" y="142.60" width="1.3" height="1.6" fill="#fff"/>
<rect x="515.93" y="142.60" width="1.3" height="1.6" fill="#fff"/>
<rect x="518.30" y="142.60" width="1.3" height="1.6" fill="#fff"/>
<rect x="520.67" y="142.60" width="1.3" height="1.6" fill="#fff"/>
<rect x="523.04" y="142.60" width="1.3" height="1.6" fill="#fff"/>
<rect x="525.41" y="142.60" width="1.3" height="1.6" fill="#fff"/>
<rect x="527.78" y="142.60" width="1.3" height="1.6" fill="#fff"/>
<rect x="530.15" y="142.60" width="1.3" height="1.6" fill="#fff"/>
<rect x="532.52" y="142.60" width="1.3" height="1.6" fill="#fff"/>
<circle cx="352.6" cy="104.0" r="1.6" fill="#fff" stroke="#58e038" stroke-width="0.72"/><path d="M352.6,102.8L353.6,104.8L351.6,104.8Z" fill="#fff" stroke="#ff8412" stroke-width="0.2"/>
<path d="M96.6,5.8H128" stroke="#ff1a1a" stroke-width="1.3"/><text transform="translate(131.60,10.25) scale(1,1.08)" font-size="11.45" stroke="#000" stroke-width="0.1">The water hammer at point A</text><path d="M96.6,22.6H128" stroke="#1a1aff" stroke-width="1.5" stroke-dasharray="5.4 4.2"/><text transform="translate(131.60,27.15) scale(1,1.08)" font-size="11.45" stroke="#000" stroke-width="0.1">The water hammer at point B</text><path d="M96.6,39.5H128" stroke="#1de61d" stroke-width="1.3"/><circle cx="112.3" cy="39.5" r="1.8" fill="#1de61d"/><text transform="translate(131.60,44.05) scale(1,1.08)" font-size="11.45" stroke="#000" stroke-width="0.1">The water hammer at point C</text><path d="M96.6,56.4H128" stroke="#ff8412" stroke-width="1.3"/><path d="M112.3,54.5l1.1,3h-2.2z" fill="#fff" stroke="#ff8412" stroke-width="0.25"/><text transform="translate(131.60,60.95) scale(1,1.08)" font-size="11.45" stroke="#000" stroke-width="0.1">The water hammer at point D</text>
<path d="M399,7.2H430.6" stroke="#ff1a1a" stroke-width="1.3"/><text transform="translate(434.90,11.70) scale(1,1.08)" font-size="11.7" stroke="#000" stroke-width="0.1">The flow at point A</text><path d="M399,24.2H430.6" stroke="#1a1aff" stroke-width="1.5" stroke-dasharray="5.4 4.2"/><text transform="translate(434.90,28.70) scale(1,1.08)" font-size="11.7" stroke="#000" stroke-width="0.1">The flow at point B</text><path d="M399,41.2H430.6" stroke="#1de61d" stroke-width="1.3"/><circle cx="414.8" cy="41.2" r="1.8" fill="#1de61d"/><text transform="translate(434.90,45.70) scale(1,1.08)" font-size="11.7" stroke="#000" stroke-width="0.1">The flow at point C</text><path d="M399,58.2H430.6" stroke="#ff8412" stroke-width="1.3"/><rect x="413.5" y="56.7" width="2.6" height="3" fill="#fff"/><text transform="translate(434.90,62.70) scale(1,1.08)" font-size="11.7" stroke="#000" stroke-width="0.1">The flow at point D</text>
</svg>
</body></html>
